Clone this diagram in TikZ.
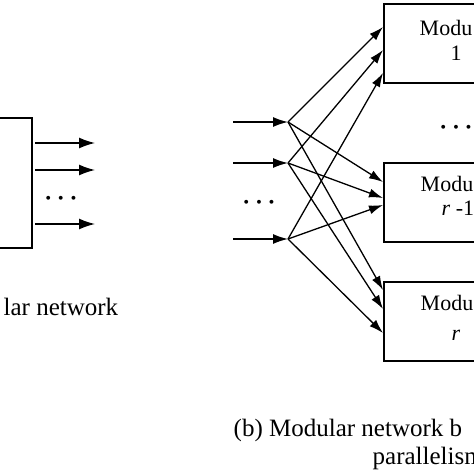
\documentclass[tikz,border=0pt]{standalone}
\usepackage{fontspec}
\setmainfont{Liberation Serif}
\usetikzlibrary{arrows.meta}
\begin{document}
\begin{tikzpicture}[x=1pt,y=-1pt,line width=1.4pt,
  box/.style={draw,line width=1.6pt,minimum width=150pt,minimum height=79pt,anchor=north west,inner sep=0pt},
  bigarr/.style={-{Latex[length=16pt,width=11pt]}},
  inarr/.style={-{Latex[length=15pt,width=10pt]}},
  fan/.style={-{Latex[length=14pt,width=9pt]},line width=1.3pt},
  mtext/.style={font=\fontsize{22}{22}\selectfont,inner sep=0pt},
  captext/.style={font=\fontsize{25}{25}\selectfont,anchor=base west,inner sep=0pt},
  dotsty/.style={font=\fontsize{24}{24}\selectfont\boldmath,inner sep=0pt}]
\useasboundingbox (0,0) rectangle (474,474);
\clip (0,0) rectangle (474,474);

% ---------- (a) ----------
\node[draw,line width=1.6pt,anchor=north east,minimum width=100pt,minimum height=130pt,inner sep=0pt] (abox) at (33,117) {};
\coordinate (ae1) at (95,143);
\coordinate (ae2) at (95,170);
\coordinate (ae3) at (95,224);
\draw[bigarr] ([xshift=2pt]abox.east |- ae1) -- (ae1);
\draw[bigarr] ([xshift=2pt]abox.east |- ae2) -- (ae2);
\draw[bigarr] ([xshift=2pt]abox.east |- ae3) -- (ae3);
\node[dotsty] (adots) at (61,199) {$\cdots$};
\node[captext] (acap) at (3,315) {lar network};

% ---------- (b) ----------
\node[box] (m1) at (383,3) {};
\node[box] (m2) at (383,162) {};
\node[box] (m3) at (383,281) {};

\node[mtext,anchor=base west] (m1a) at (419,35) {Modu};
\node[mtext,anchor=base] (m1b) at (456,60) {1};
\node[mtext,anchor=base west] (m2a) at (420,191) {Modu};
\node[mtext,anchor=base west] (m2b) at (441,215) {\textit{r} -1};
\node[mtext,anchor=base west] (m3a) at (420,310) {Modu};
\node[mtext,anchor=base] (m3b) at (456,340) {\textit{r}};
\node[dotsty] (mdots) at (456,128) {$\cdots$};

\coordinate (in1) at (233,122);
\coordinate (in2) at (233,163);
\coordinate (in3) at (233,239);
\coordinate (p1) at (288,122);
\coordinate (p2) at (288,163);
\coordinate (p3) at (288,239);
\draw[inarr] (in1) -- (p1);
\draw[inarr] (in2) -- (p2);
\draw[inarr] (in3) -- (p3);
\node[dotsty] (indots) at (259,203) {$\cdots$};

\coordinate (t11) at (383,27);
\coordinate (t12) at (383,50);
\coordinate (t13) at (383,73);
\coordinate (t21) at (383,182);
\coordinate (t22) at (383,198);
\coordinate (t23) at (383,205);
\coordinate (t31) at (383,290);
\coordinate (t32) at (383,309);
\coordinate (t33) at (383,333);

\draw[fan] (p1) -- (t11);
\draw[fan] (p2) -- (t12);
\draw[fan] (p3) -- (t13);
\draw[fan] (p1) -- (t21);
\draw[fan] (p2) -- (t22);
\draw[fan] (p3) -- (t23);
\draw[fan] (p1) -- (t31);
\draw[fan] (p2) -- (t32);
\draw[fan] (p3) -- (t33);

\node[captext] (bcap1) at (233,436) {(b) Modular network b};
\node[captext] (bcap2) at (372,464) {parallelism};
\end{tikzpicture}
\end{document}
